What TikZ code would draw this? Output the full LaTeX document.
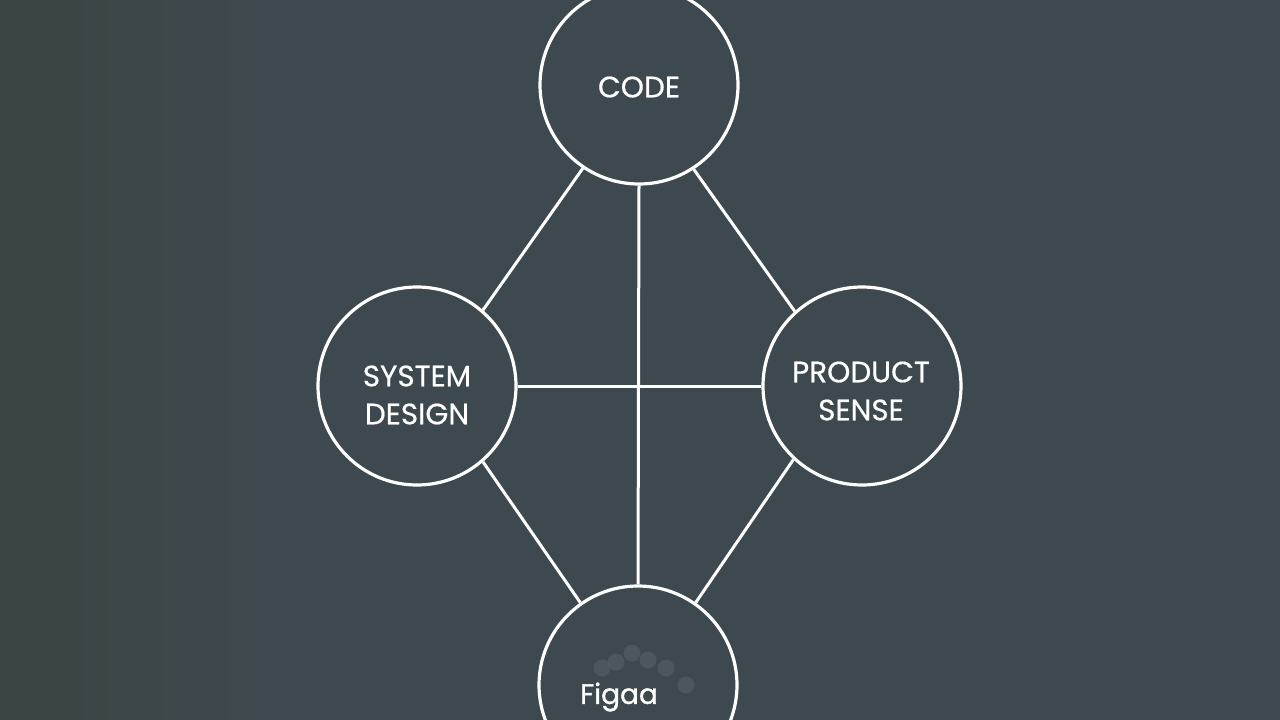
\documentclass[tikz,border=0pt]{standalone}
\usepackage{fontspec}
\setmainfont{Poppins}
\newfontfamily\hubfont{Poppins}[FakeBold=0.5]
\newfontfamily\figfont{Poppins}[FakeBold=1.2]
\definecolor{bgmid}{HTML}{3D494E}
\definecolor{bgleft}{HTML}{394543}
\definecolor{dotgray}{HTML}{59656A}
\tikzset{
  hub/.style={circle, draw=white, line width=3.2pt, minimum size=198pt, inner sep=0pt},
  hublabel/.style={text=white, align=center, font=\hubfont\fontsize{29.5}{38}\selectfont},
  link/.style={draw=white, line width=3pt},
  ghostdot/.style={circle, fill=dotgray, opacity=0.5, minimum size=17pt, inner sep=0pt}
}
\begin{document}
\begin{tikzpicture}[x=1pt,y=-1pt]
  \useasboundingbox (0,0) rectangle (1280,720);
  \clip (0,0) rectangle (1280,720);
  \fill[bgmid] (0,0) rectangle (1280,720);
  \shade[left color=bgleft, right color=bgmid] (0,0) rectangle (260,720);
  \node[hub] (code) at (639,85) {};
  \node[hub] (sys) at (417,386) {};
  \node[hub] (prod) at (862,386) {};
  \node[hub] (fig) at (638,685) {};
  \node[hublabel] (codelabel) at (639,87) {CODE};
  \node[hublabel] (syslabel) at (417,395) {SYSTEM\\DESIGN};
  \node[hublabel] (prodlabel) at (861,391) {PRODUCT\\SENSE};
  \path[link] (code.236) -- (sys.49);
  \path[link] (code.303) -- (prod.132);
  \path[link] (code.south) -- (fig.north);
  \path[link] (sys.east) -- (prod.west);
  \path[link] (sys.311) -- (fig.125);
  \path[link] (prod.227) -- (fig.55);
  \node[ghostdot] (d1) at (602,668) {};
  \node[ghostdot] (d2) at (616,662) {};
  \node[ghostdot] (d3) at (632,653) {};
  \node[ghostdot] (d4) at (648,660) {};
  \node[ghostdot] (d5) at (666,668) {};
  \node[ghostdot] (d6) at (686,685) {};
  \node[text=white, font=\figfont\fontsize{28}{30}\selectfont] (figlabel) at (619,697) {Figaa};
\end{tikzpicture}
\end{document}
